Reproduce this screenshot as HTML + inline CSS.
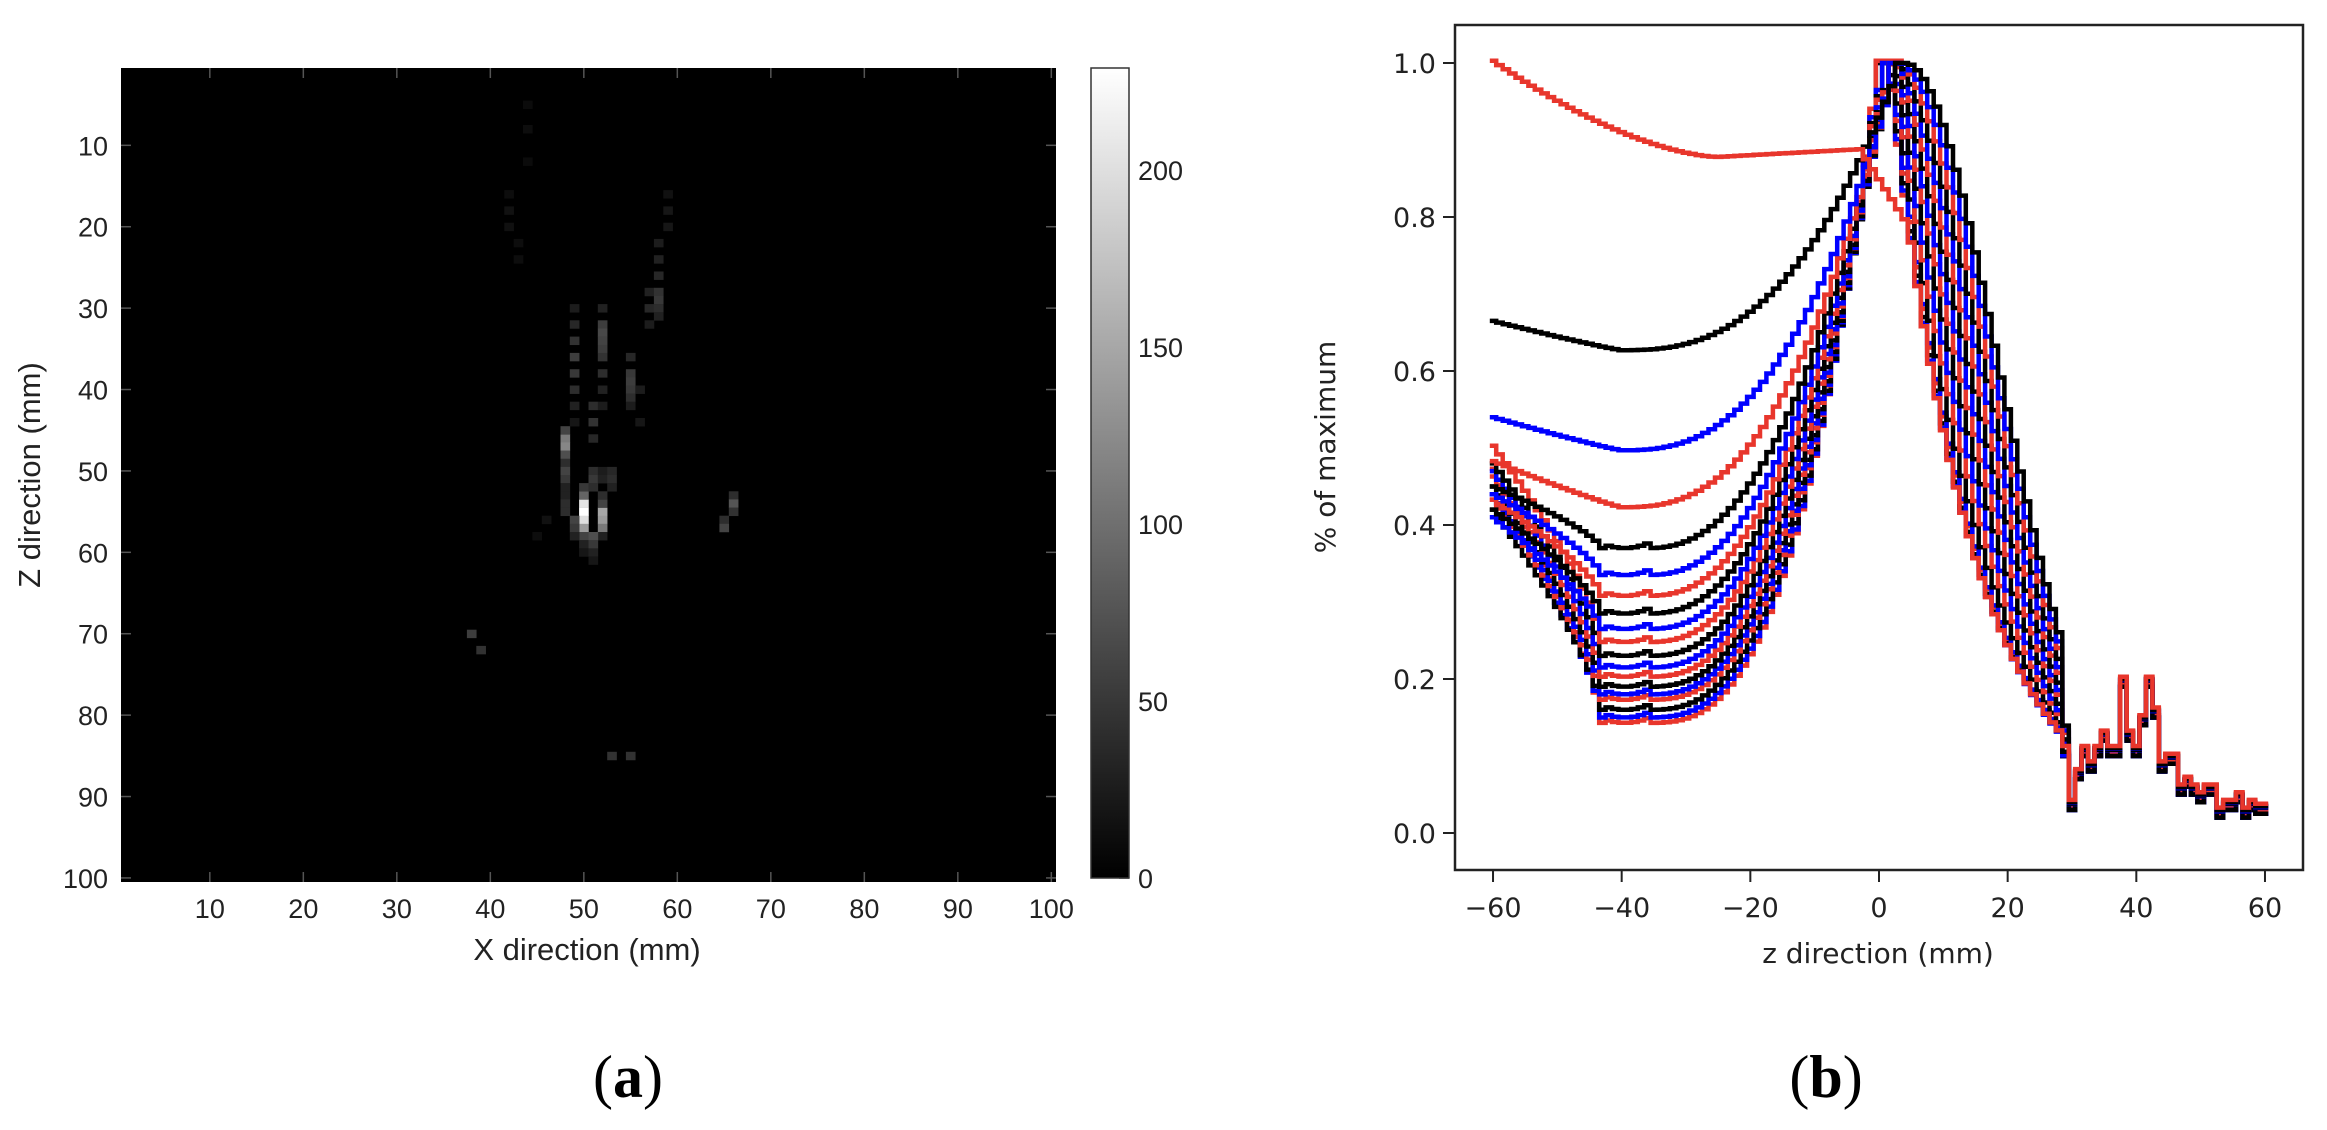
<!DOCTYPE html>
<html><head><meta charset="utf-8">
<style>
html,body{margin:0;padding:0;background:#fff;width:2327px;height:1130px;overflow:hidden;}
svg{display:block;}
</style></head>
<body>
<svg id="s" width="2327" height="1130" viewBox="0 0 2327 1130" xmlns="http://www.w3.org/2000/svg">
<defs>
<linearGradient id="cb" x1="0" y1="1" x2="0" y2="0">
<stop offset="0" stop-color="#000"/><stop offset="1" stop-color="#fff"/>
</linearGradient>
<clipPath id="rc"><rect x="1455" y="25" width="848" height="845"/></clipPath>
</defs>
<rect x="121" y="68" width="935" height="814" fill="#000"/>
<g id="heat"></g>
<g id="lticks" stroke="#555" stroke-width="1.5"></g>
<g font-family="Liberation Sans, sans-serif" font-size="27" fill="#222" id="ltext"></g>
<rect x="1091" y="68" width="38" height="810" fill="url(#cb)" stroke="#333" stroke-width="1.5"/>
<text x="587" y="960" font-family="Liberation Sans, sans-serif" font-size="31" fill="#222" text-anchor="middle">X direction (mm)</text>
<text transform="translate(40,475) rotate(-90)" font-family="Liberation Sans, sans-serif" font-size="31" fill="#222" text-anchor="middle">Z direction (mm)</text>
<text x="628" y="1097" font-family="Liberation Serif, serif" font-size="60" fill="#000" text-anchor="middle">(<tspan font-weight="bold">a</tspan>)</text>

<rect x="1455" y="25" width="848" height="845" fill="#fff" stroke="#222" stroke-width="2.5"/>
<g id="curves" clip-path="url(#rc)" fill="none" stroke-width="4.5" stroke-linejoin="miter"></g>
<g id="rticks" stroke="#222" stroke-width="2"></g>
<g id="rtext" font-family="DejaVu Sans, sans-serif" font-size="27" fill="#222"></g>
<text x="1878" y="963" font-family="DejaVu Sans, sans-serif" font-size="28" fill="#222" text-anchor="middle">z direction (mm)</text>
<text transform="translate(1335,447) rotate(-90)" font-family="DejaVu Sans, sans-serif" font-size="28" fill="#222" text-anchor="middle">% of maximum</text>
<text x="1826" y="1097" font-family="Liberation Serif, serif" font-size="60" fill="#000" text-anchor="middle">(<tspan font-weight="bold">b</tspan>)</text>
</svg>
<script>
var NS="http://www.w3.org/2000/svg";
function el(p,t,a,txt){var e=document.createElementNS(NS,t);for(var k in a)e.setAttribute(k,a[k]);if(txt!==undefined)e.textContent=txt;p.appendChild(e);return e;}
var heat=document.getElementById('heat');
var pw=9.35,ph=8.14,x0=121,y0=68;
var spots=[
[50,55,230],[50,54,205],[50,56,200],[50,57,140],[50,53,90],[50,52,50],[50,58,60],[50,59,30],[50,60,20],
[52,55,150],[52,56,140],[52,57,110],[52,54,60],[52,53,40],[52,58,30],
[48,46,110],[48,47,120],[48,48,70],[48,45,60],[48,49,40],[48,50,60],[48,51,50],[48,52,30],[48,53,30],[48,54,40],[48,55,40],
[49,30,25],[49,32,35],[49,34,45],[49,36,55],[49,38,50],[49,40,40],[49,42,30],[49,44,20],[49,56,60],[49,57,50],[49,58,30],
[51,42,40],[51,44,45],[51,46,35],[51,50,40],[51,51,50],[51,52,40],[51,58,70],[51,59,50],[51,60,30],[51,61,20],
[52,30,30],[52,32,55],[52,33,65],[52,34,60],[52,35,55],[52,36,45],[52,38,40],[52,40,30],[52,42,25],[52,50,25],[52,51,30],
[53,50,35],[53,51,40],[53,52,30],
[55,36,35],[55,38,50],[55,39,55],[55,40,50],[55,41,40],[55,42,25],
[57,28,30],[57,30,35],[57,32,25],[56,40,25],[56,44,20],
[58,22,25],[58,24,30],[58,26,35],[58,28,45],[58,29,50],[58,30,40],[58,31,30],
[59,16,15],[59,18,20],[59,20,20],
[44,5,10],[44,8,12],[44,12,10],[42,16,12],[42,18,15],[42,20,14],[43,22,12],[43,24,12],
[66,53,40],[66,54,75],[66,55,45],[65,56,40],[65,57,60],
[38,70,55],[39,72,45],[53,85,45],[55,85,45],[46,56,15],[45,58,12]
];
spots.forEach(function(s){var v=Math.round(s[2]/229*255);el(heat,'rect',{x:(x0+(s[0]-1)*pw).toFixed(1),y:(y0+(s[1]-1)*ph).toFixed(1),width:pw+0.3,height:ph+0.3,fill:'rgb('+v+','+v+','+v+')'});});
var lt=document.getElementById('lticks'),ltx=document.getElementById('ltext');
for(var i=10;i<=100;i+=10){
 var x=x0+(i-0.5)*pw, y=y0+(i-0.5)*ph;
 el(lt,'line',{x1:x,y1:68,x2:x,y2:78});el(lt,'line',{x1:x,y1:882,x2:x,y2:872});
 el(lt,'line',{x1:121,y1:y,x2:131,y2:y});el(lt,'line',{x1:1056,y1:y,x2:1046,y2:y});
 el(ltx,'text',{x:x,y:918,'text-anchor':'middle'},String(i));
 el(ltx,'text',{x:108,y:y+10,'text-anchor':'end'},String(i));
}
[[0,878],[50,701],[100,524],[150,347],[200,170]].forEach(function(t){
 el(lt,'line',{x1:1119,y1:t[1],x2:1129,y2:t[1],stroke:'#333'});
 el(ltx,'text',{x:1138,y:t[1]+10},String(t[0]));
});
function PX(z){return 1879+6.433*z;}
function PY(v){return 833-770*v;}
var rt=document.getElementById('rticks'),rtx=document.getElementById('rtext');
for(var q=0;q<=5;q++){var yy0=PY(q*0.2);el(rt,'line',{x1:1443,y1:yy0,x2:1455,y2:yy0});el(rtx,'text',{x:1436,y:yy0+10,'text-anchor':'end'},(q*0.2).toFixed(1));}
for(var zz=-60;zz<=60;zz+=20){var xq=PX(zz);el(rt,'line',{x1:xq,y1:870,x2:xq,y2:882});el(rtx,'text',{x:xq,y:917,'text-anchor':'middle'},(zz<0?'\u2212':'')+Math.abs(zz));}
var tail={29:0.1,30:0.03,31:0.07,32:0.1,33:0.08,34:0.1,35:0.12,36:0.1,37:0.1,38:0.19,39:0.12,40:0.1,41:0.14,42:0.19,43:0.15,44:0.08,45:0.09,46:0.09,47:0.05,48:0.06,49:0.05,50:0.04,51:0.05,52:0.05,53:0.02,54:0.03,55:0.03,56:0.04,57:0.02,58:0.03,59:0.025,60:0.025};
var cols=['#e8362c','#000','#0000ff'];
var mins=[0.875,0.627,0.497,0.42,0.37,0.335,0.305,0.285,0.265,0.245,0.23,0.215,0.2,0.19,0.18,0.17,0.16,0.15,0.14];
var starts=[1.0,0.665,0.54,0.48,0.45,0.44,0.43,0.42,0.41,0.50,0.48,0.47,0.46,0.45,0.44,0.43,0.42,0.44,0.47];
var N=mins.length;
function right(z,frac){
 var zp=4-frac*2.5;
 if(z<=zp) return 1.0;
 var ga=Math.exp(-Math.pow((z-zp)/20.7,2));
 var ex=Math.exp(-(z-zp)/13);
 var w=Math.min(1,frac*1.3);
 return (1-w)*ga+w*ex;
}
var g=document.getElementById('curves');
var order=[];for(var k=N-1;k>=0;k--)order.push(k);
order.forEach(function(k){
 var m=mins[k],s=starts[k];
 var frac=(k-1)/(N-2); if(frac<0)frac=0;
 var zp=4-frac*2.5;
 var lower=k>=4;
 var zl=lower?-43:-40, zr=lower?-36:-40;
 var p=lower?0.75:1.1;
 var pts=[];
 for(var z=-60;z<=60;z++){
  var v;
  if(k==0){
   if(z<=-25) v=0.875+0.125*Math.pow((-25-z)/35,1.6);
   else if(z<=-3) v=0.875+0.01*((z+25)/22);
   else { v=Math.min(0.885-0.013*(z+3), right(z,1));}
  } else if(z<=zl){ v=m+(s-m)*Math.pow((zl-z)/(zl+60),p); if(lower) v+= 0.012*Math.pow((zl-z)/(zl+60),0.3)*0; }
  else if(z<=zr){ var c=(z-(zl+zr)/2)/((zr-zl)/2); v=m+0.006*c*c; }
  else if(z<=zp-2){ var t=(z-zr)/(zp-2-zr); v=m+(0.97-m)*Math.pow(t,lower?2.2+frac*0.6:2.6); }
  else { v=right(z,frac); }
  if(z>=29){ var tv=tail[z]+(frac<0.3?0.01:0)*(1-frac); v=z<=29?Math.max(tv,v*0.6):tv; }
  v+=(k%3==0?0.003:0);
  if(v<0.01)v=0.01;
  pts.push([z,v]);
 }
 var d='M'+PX(pts[0][0]-0.5).toFixed(1)+','+PY(pts[0][1]).toFixed(1);
 for(var i=0;i<pts.length;i++){
  var xx=PX(pts[i][0]+0.5), yy=PY(pts[i][1]);
  if(i>0) d+='V'+yy.toFixed(1);
  d+='H'+xx.toFixed(1);
 }
 el(g,'path',{d:d,stroke:cols[k%3]});
});
</script>
</body></html>
